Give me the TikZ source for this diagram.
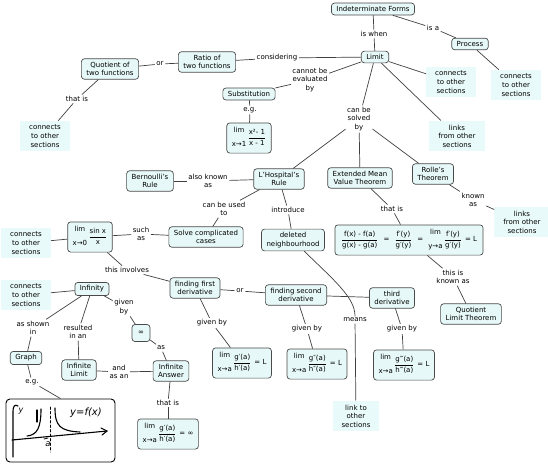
\documentclass[tikz,border=0pt]{standalone}
\usepackage{fontspec}
\setmainfont{DejaVu Sans}
\definecolor{bx}{HTML}{E6F8F8}
\definecolor{cx}{HTML}{E9FAFA}
\definecolor{bd}{HTML}{4A4A4A}
\definecolor{ln}{HTML}{404040}
\newcommand\fs{\fontsize{7}{8.6}\selectfont}
\newcommand\lm[4]{$\displaystyle\begin{array}{@{}c@{}}\mbox{lim}\\[5pt]\mbox{#1}\end{array}\,\frac{\mbox{#2}}{\mbox{#3}}\mbox{#4}$}
\newcommand\eqsp{\mbox{\hspace{5pt}=\hspace{5pt}}}
\tikzset{
 box/.style={draw=bd, fill=bx, rounded corners=3pt, line width=0.7pt, align=center, inner xsep=5pt, inner ysep=3.2pt, font=\fs},
 cbox/.style={fill=cx, align=center, inner xsep=9pt, inner ysep=4pt, font=\fs},
 lbl/.style={align=center, inner sep=1.5pt, font=\fs},
 con/.style={draw=ln, line width=0.7pt},
 sketch/.style={draw=black, line width=1.1pt, line cap=round, line join=round},
}
\begin{document}
\begin{tikzpicture}[x=1pt,y=-1pt]
\useasboundingbox (0,0) rectangle (548,463);
% concept boxes
\node[box] (ind) at (373,9) {Indeterminate Forms};
\node[box] (proc) at (470,44) {Process};
\node[box] (lim) at (375,57) {Limit};
\node[box] (ratio) at (207,62) {Ratio of\\two functions};
\node[box] (quot) at (110,69) {Quotient of\\two functions};
\node[box] (subs) at (249,94) {Substitution};
\node[box, inner ysep=4pt] (ex1) at (249,138) {\lm{x→1}{x²- 1}{x - 1}{}};
\node[box] (bern) at (150,181) {Bernoulli's\\Rule};
\node[box] (lhop) at (279,179) {L'Hospital's\\Rule};
\node[box] (emvt) at (360,178) {Extended Mean\\Value Theorem};
\node[box] (rolle) at (433,174) {Rolle's\\Theorem};
\node[box, inner ysep=4pt] (sinx) at (90,237) {\lm{x→0}{sin x}{x}{}};
\node[box] (solve) at (206,237) {Solve complicated\\cases};
\node[box] (del) at (293,240) {deleted\\neighbourhood};
\node[box, inner ysep=4pt, inner xsep=6pt] (eq) at (409,240) {$\displaystyle\frac{\mbox{f(x) - f(a)}}{\mbox{g(x) - g(a)}}\eqsp\frac{\mbox{f′(y)}}{\mbox{g′(y)}}\eqsp\begin{array}{@{}c@{}}\mbox{lim}\\[5pt]\mbox{y→a}\end{array}\,\frac{\mbox{f′(y)}}{\mbox{g′(y)}}\mbox{\hspace{3pt}= L}$};
\node[box] (first) at (195,288) {finding first\\derivative};
\node[box] (second) at (296,295) {finding second\\derivative};
\node[box] (third) at (392,298) {third\\derivative};
\node[box] (qlt) at (471,314) {Quotient\\Limit Theorem};
\node[box] (inf) at (92,289) {Infinity};
\node[box, minimum width=18pt, minimum height=17pt, inner sep=1pt] (infsym) at (141,333) {∞};
\node[box] (graph) at (26,358) {Graph};
\node[box] (ilim) at (79,370) {Infinite\\Limit};
\node[box] (ians) at (171,371) {Infinite\\Answer};
\node[box, inner ysep=4pt] (g1) at (242,363) {\lm{x→a}{g′(a)}{h′(a)}{\hspace{3pt}= L}};
\node[box, inner ysep=4pt] (g2) at (317,364) {\lm{x→a}{g″(a)}{h″(a)}{\hspace{3pt}= L}};
\node[box, inner ysep=4pt] (g3) at (404,365) {\lm{x→a}{g‴(a)}{h‴(a)}{\hspace{3pt}= L}};
\node[box, inner ysep=4pt] (ginf) at (168,434) {\lm{x→a}{g′(a)}{h′(a)}{\hspace{3pt}= ∞}};
% link-out boxes
\node[cbox] (c1) at (45,136) {connects\\to other\\sections};
\node[cbox] (c2) at (451,82) {connects\\to other\\sections};
\node[cbox] (c3) at (516,85) {connects\\to other\\sections};
\node[cbox] (lk1) at (457,136) {links\\from other\\sections};
\node[cbox] (lk2) at (522,222) {links\\from other\\sections};
\node[cbox] (c4) at (26,243) {connects\\to other\\sections};
\node[cbox] (c5) at (26,295) {connects\\to other\\sections};
\node[cbox] (lk3) at (356,416) {link to\\other\\sections};
% graph box
\node[draw=black, fill=white, rounded corners=4pt, line width=0.9pt, minimum width=109pt, minimum height=63pt, inner sep=0pt] (gbox) at (60.5,430.5) {};
% link labels
\node[lbl] (liswhen) at (374,34) {is when};
\node[lbl] (lisa) at (433,28) {is a};
\node[lbl] (lcons) at (277,58) {considering};
\node[lbl] (lor1) at (160,64) {or};
\node[lbl] (lthat1) at (77,99) {that is};
\node[lbl] (lcannot) at (310,80) {cannot be\\evaluated\\by};
\node[lbl] (leg1) at (250,110) {e.g.};
\node[lbl] (lsolved) at (359,119) {can be\\solved\\by};
\node[lbl] (laka) at (208,181) {also known\\as};
\node[lbl] (lused) at (224,209) {can be used\\to};
\node[lbl] (lintro) at (288,210) {introduce};
\node[lbl] (lthat2) at (392,209) {that is};
\node[lbl] (lknown) at (473,200) {known\\as};
\node[lbl] (lsuch) at (141,234) {such\\as};
\node[lbl] (linv) at (127,270) {this involves};
\node[lbl] (lor2) at (240,291) {or};
\node[lbl] (ltiks) at (453,277) {this is\\known as};
\node[lbl] (lgb0) at (124,307) {given\\by};
\node[lbl] (lasshown) at (33,328) {as shown\\in};
\node[lbl] (lresult) at (78,332) {resulted\\in an};
\node[lbl] (las) at (161,348) {as};
\node[lbl] (landas) at (119,372) {and\\as an};
\node[lbl] (leg2) at (32,382) {e.g.};
\node[lbl] (lthat3) at (168,403) {that is};
\node[lbl] (lgb1) at (212,323) {given by};
\node[lbl] (lgb2) at (307,329) {given by};
\node[lbl] (lgb3) at (402,329) {given by};
\node[lbl] (lmeans) at (355,320) {means};
% connectors
\draw[con] (ind) -- (liswhen); \draw[con] (liswhen) -- (lim);
\draw[con] (ind) -- (lisa); \draw[con] (lisa) -- (proc);
\draw[con] (proc) -- (c3);
\draw[con] (lim) -- (lcons); \draw[con] (lcons) -- (ratio);
\draw[con] (ratio) -- (lor1); \draw[con] (lor1) -- (quot);
\draw[con] (quot) -- (lthat1); \draw[con] (lthat1) -- (c1);
\draw[con] (lim) -- (lcannot); \draw[con] (lcannot) -- (subs);
\draw[con] (subs) -- (leg1); \draw[con] (leg1) -- (ex1);
\draw[con] (lim) -- (c2);
\draw[con] (lim) -- (lk1);
\draw[con] (lim) -- (lsolved);
\draw[con] (lsolved) -- (lhop); \draw[con] (lsolved) -- (emvt); \draw[con] (lsolved) -- (rolle);
\draw[con] (lhop) -- (laka); \draw[con] (laka) -- (bern);
\draw[con] (lhop) -- (lused); \draw[con] (lused) -- (solve);
\draw[con] (lhop) -- (lintro); \draw[con] (lintro) -- (del);
\draw[con] (solve) -- (lsuch); \draw[con] (lsuch) -- (sinx);
\draw[con] (sinx) -- (c4);
\draw[con] (sinx) -- (linv); \draw[con] (linv) -- (first);
\draw[con] (first) -- (lor2); \draw[con] (lor2) -- (second);
\draw[con] (second) -- (third);
\draw[con] (first) -- (lgb1); \draw[con] (lgb1) -- (g1);
\draw[con] (second) -- (lgb2); \draw[con] (lgb2) -- (g2);
\draw[con] (third) -- (lgb3); \draw[con] (lgb3) -- (g3);
\draw[con] (del.-45) .. controls (336,282) and (355,298) .. (lmeans.north);
\draw[con] (lmeans) -- (lk3);
\draw[con] (emvt) -- (lthat2); \draw[con] (lthat2) -- (eq);
\draw[con] (eq) -- (ltiks); \draw[con] (ltiks) -- (qlt);
\draw[con] (rolle) -- (lknown); \draw[con] (lknown) -- (lk2);
\draw[con] (inf) -- (c5);
\draw[con] (inf) -- (lasshown); \draw[con] (lasshown) -- (graph);
\draw[con] (inf) -- (lresult); \draw[con] (lresult) -- (ilim);
\draw[con] (inf) -- (lgb0); \draw[con] (lgb0) -- (infsym);
\draw[con] (infsym) -- (las); \draw[con] (las) -- (ians);
\draw[con] (ilim) -- (landas); \draw[con] (landas) -- (ians);
\draw[con] (ians) -- (lthat3); \draw[con] (lthat3) -- (ginf);
\draw[con] (graph) -- (leg2); \draw[con] (leg2) -- (gbox.north);
% hand sketch inside graph box
\draw[sketch] (13,457) -- (13,411) .. controls (13,406) and (15,404) .. (18,406);
\node[font=\fontsize{8}{8}\selectfont\itshape, inner sep=0pt] (sy) at (21,411) {y};
\draw[sketch] (12,440) -- (107,431);
\draw[sketch] (101,428) -- (107,431) -- (102,435);
\draw[sketch] (27,436) .. controls (37,435) and (41,428) .. (41,409);
\draw[sketch] (37,410) -- (37,422);
\draw[sketch, line width=0.8pt, dash pattern=on 2.5pt off 2pt] (50,407) -- (50,452);
\draw[sketch] (55,408) .. controls (55,426) and (60,431) .. (80,432);
\node[font=\fontsize{8.5}{8.5}\selectfont\itshape, inner sep=0pt] (sa) at (48,444) {a};
\draw[sketch, line width=0.8pt] (44,439) -- (48,438);
\node[font=\fontsize{10}{10}\selectfont\itshape, inner sep=0pt] (syf) at (86,413) {y=f(x)};
\end{tikzpicture}
\end{document}
